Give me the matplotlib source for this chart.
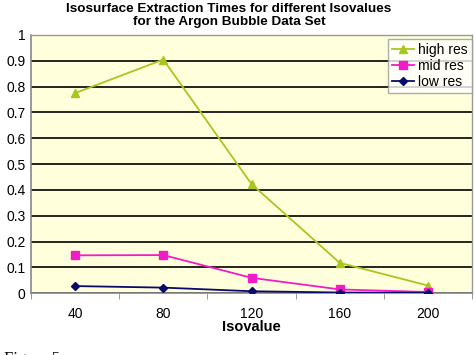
import matplotlib
matplotlib.use("Agg")
import matplotlib.pyplot as plt
import numpy as np

categories = ["40", "80", "120", "160", "200"]
high_res = [0.775, 0.905, 0.423, 0.118, 0.030]
mid_res = [0.147, 0.148, 0.060, 0.015, 0.005]
low_res = [0.028, 0.022, 0.008, 0.003, 0.002]
yticks = [0, 0.1, 0.2, 0.3, 0.4, 0.5, 0.6, 0.7, 0.8, 0.9, 1]
ytick_labels = ["0", "0.1", "0.2", "0.3", "0.4", "0.5", "0.6", "0.7", "0.8", "0.9", "1"]

plt.rcParams['font.family'] = ['Liberation Sans', 'DejaVu Sans']

fig = plt.figure(figsize=(4.74, 3.55), dpi=100)
ax = fig.add_axes([31/474, 1-293.3/355, (472-31)/474, (293.3-35)/355])
ax.set_facecolor('#FFFFDC')

x = np.arange(len(categories))
ax.plot(x, high_res, color='#A8C61E', marker='^', markersize=6, lw=1.3, label='high res', zorder=3)
ax.plot(x, mid_res, color='#F21BC8', marker='s', markersize=5.5, lw=1.3, label='mid res', zorder=3)
ax.plot(x, low_res, color='#0A0A6E', marker='D', markersize=4, lw=1.3, label='low res', zorder=3)

ax.set_xlim(-0.5, len(categories) - 0.5)
ax.set_ylim(0, 1)
ax.set_yticks(yticks)
ax.set_yticklabels(ytick_labels, fontsize=10)
ax.yaxis.grid(True, color='black', lw=1.2)
ax.set_axisbelow(True)
ax.tick_params(axis='y', length=0, pad=4)

ax.set_xticks(x)
ax.set_xticklabels(categories, fontsize=10)
ax.tick_params(axis='x', length=0, pad=10)
ax.set_xticks(np.arange(-0.5, len(categories) + 0.5, 1), minor=True)
ax.tick_params(axis='x', which='minor', length=4, color='#888888', direction='out')

for s in ['left', 'bottom']:
    ax.spines[s].set_color('#888888')
    ax.spines[s].set_linewidth(1.2)
for s in ['top', 'right']:
    ax.spines[s].set_color('#999999')
    ax.spines[s].set_linewidth(1.0)

ax.set_xlabel('Isovalue', fontsize=10.5, fontweight='bold', labelpad=-1)

fig.text(229/474, 1-3/355, 'Isosurface Extraction Times for different Isovalues\nfor the Argon Bubble Data Set',
         ha='center', va='top', fontsize=9.7, fontweight='bold', linespacing=1.1)

leg = ax.legend(loc='upper right', bbox_to_anchor=(1.0, 0.985), fontsize=10, frameon=True,
                fancybox=False, handlelength=1.6, handletextpad=0.3, borderpad=0.3,
                labelspacing=0.15, borderaxespad=0.0)
leg.get_frame().set_edgecolor('#999999')
leg.get_frame().set_facecolor('white')
leg.get_frame().set_linewidth(1.0)

fig.text(4/474, 1-351/355, 'Figure 5', ha='left', va='top', fontsize=12,
         family=['Liberation Serif', 'DejaVu Serif'])

fig.savefig('out.png', dpi=100)
